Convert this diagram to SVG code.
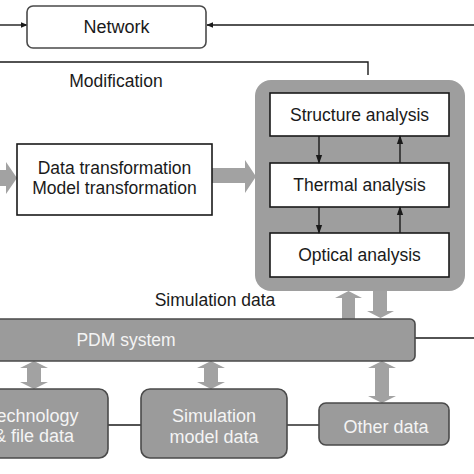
<svg xmlns="http://www.w3.org/2000/svg" width="474" height="474" viewBox="0 0 474 474">
<style>
text{font-family:"Liberation Sans",Arial,sans-serif;font-size:17.5px;text-anchor:middle;fill:#1a1a1a}
.wt{fill:#f4f4f4}
.wbox{fill:#fff;stroke:#1a1a1a;stroke-width:1.6}
.gbox{fill:#9b9b9b;stroke:#4a4a4a;stroke-width:1.6}
.ln{fill:none;stroke:#1a1a1a;stroke-width:1.4}
.fat{fill:#a2a2a2;stroke:none}
</style>
<defs>
<marker id="ah" viewBox="0 0 10 10" refX="9" refY="5" markerWidth="7" markerHeight="7" markerUnits="userSpaceOnUse" orient="auto">
<path d="M0,1 L10,5 L0,9 Z" fill="#1a1a1a"/>
</marker>
<marker id="ah2" viewBox="0 0 10 10" refX="9" refY="5" markerWidth="9" markerHeight="9" markerUnits="userSpaceOnUse" orient="auto">
<path d="M0,1.5 L10,5 L0,8.5 Z" fill="#1a1a1a"/>
</marker>
</defs>
<rect width="474" height="474" fill="#fff"/>

<g id="connectors">
<line class="ln" x1="0" y1="25" x2="27" y2="25" marker-end="url(#ah)"/>
<line class="ln" x1="474" y1="25" x2="207" y2="25" marker-end="url(#ah)"/>
<polyline class="ln" points="0,62 368,62 368,75"/>
<line class="ln" x1="415" y1="338" x2="474" y2="338"/>
<line class="ln" x1="108" y1="425" x2="141" y2="425"/>
<line class="ln" x1="287" y1="425" x2="319" y2="425"/>
<path class="fat" d="M0,170 L6,170 L6,162 L17,178 L6,194 L6,186 L0,186 Z"/>
<path class="fat" d="M212,168 L245,168 L245,160 L256,176.5 L245,193 L245,183 L212,183 Z"/>
<path class="fat" d="M342,319 L342,298 L335,298 L348.5,291 L362,298 L355,298 L355,319 Z"/>
<path class="fat" d="M373,291 L373,311 L367,311 L380.5,318 L394,311 L387,311 L387,291 Z"/>
<path class="fat" d="M27,368 L20,368 L34,361 L48,368 L41,368 L41,382 L48,382 L34,389 L20,382 L27,382 Z"/>
<path class="fat" d="M204,368 L197,368 L211,361 L225,368 L218,368 L218,382 L225,382 L211,389 L197,382 L204,382 Z"/>
<path class="fat" d="M375,368 L368,368 L382,361 L396,368 L389,368 L389,396 L396,396 L382,403 L368,396 L375,396 Z"/>
</g>

<g id="network">
<rect x="27" y="6" width="179" height="42" rx="6" fill="#fff" stroke="#4a4a4a" stroke-width="1.6"/>
<text x="116.5" y="33" style="font-size:18px">Network</text>
</g>

<g id="modification-label">
<text x="116" y="87">Modification</text>
</g>

<g id="transformation">
<rect class="wbox" x="17" y="144" width="195" height="71"/>
<text x="114.5" y="174">Data transformation</text>
<text x="114.5" y="194">Model transformation</text>
</g>

<g id="analysis">
<rect x="255" y="80" width="210" height="211" rx="16" fill="#9e9e9e"/>
<g id="structure">
<rect class="wbox" x="270" y="93" width="179" height="43"/>
<text x="359.5" y="121">Structure analysis</text>
</g>
<g id="thermal">
<rect class="wbox" x="270" y="163" width="179" height="44"/>
<text x="359.5" y="191">Thermal analysis</text>
</g>
<g id="optical">
<rect class="wbox" x="270" y="233" width="179" height="44"/>
<text x="359.5" y="261">Optical analysis</text>
</g>
<line class="ln" x1="319" y1="136" x2="319" y2="163" marker-end="url(#ah2)"/>
<line class="ln" x1="400" y1="163" x2="400" y2="136" marker-end="url(#ah2)"/>
<line class="ln" x1="319" y1="207" x2="319" y2="233" marker-end="url(#ah2)"/>
<line class="ln" x1="400" y1="233" x2="400" y2="207" marker-end="url(#ah2)"/>
</g>

<g id="simulation-data-label">
<text x="215" y="306">Simulation data</text>
</g>

<g id="pdm">
<rect class="gbox" x="-10" y="319" width="425" height="42" rx="5"/>
<text class="wt" x="126" y="346">PDM system</text>
</g>

<g id="technology">
<rect class="gbox" x="-32" y="389" width="140" height="69" rx="9"/>
<text class="wt" x="33" y="422" style="font-size:18px">Technology</text>
<text class="wt" x="34" y="442" style="font-size:18px">&amp; file data</text>
</g>

<g id="simulation-model">
<rect class="gbox" x="141" y="389" width="146" height="69" rx="9"/>
<text class="wt" x="214" y="422" style="font-size:18px">Simulation</text>
<text class="wt" x="214" y="443" style="font-size:18px">model data</text>
</g>

<g id="other">
<rect class="gbox" x="319" y="403" width="130" height="42" rx="7"/>
<text class="wt" x="386" y="433" style="font-size:18px">Other data</text>
</g>
</svg>
